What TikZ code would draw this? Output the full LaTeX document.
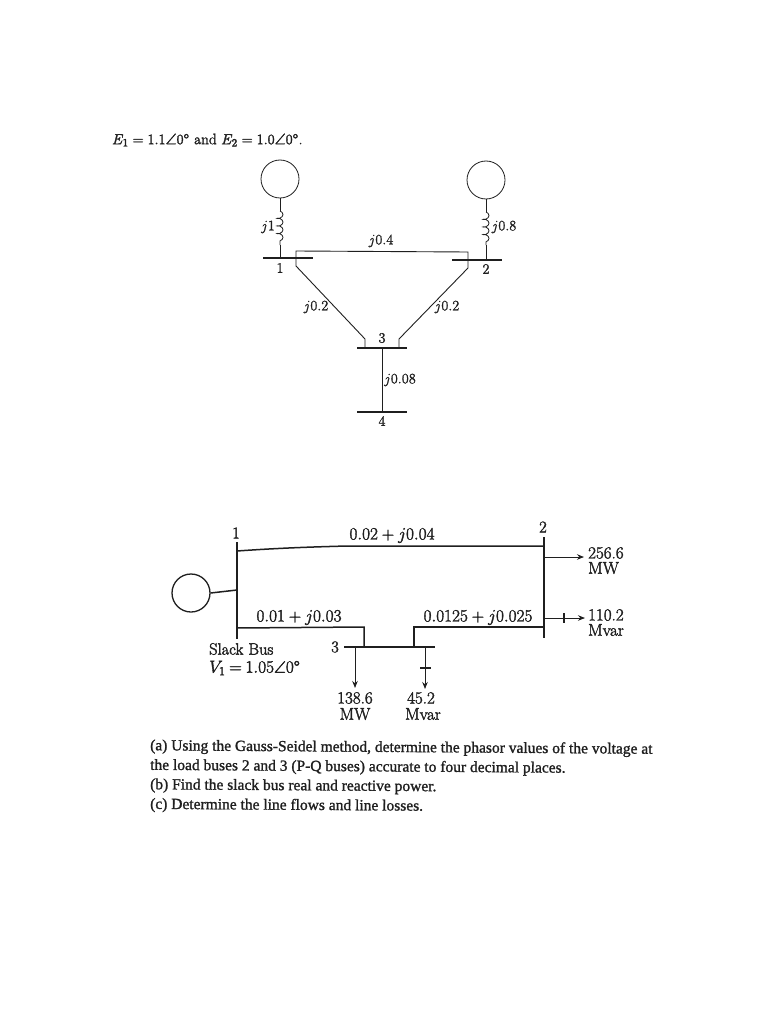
\documentclass[tikz,border=0pt]{standalone}
\usepackage{amsmath,amssymb}
\usepackage{fontspec}
\newfontfamily\bodyfont{Liberation Serif}
\usetikzlibrary{decorations.pathmorphing,arrows.meta}
\definecolor{ink}{gray}{0.12}
\newcommand{\heavy}[2]{\special{pdf:literal #1 w 2 Tr}#2\special{pdf:literal 0 Tr 0.4 w}}
\tikzset{
  thinln/.style={draw=ink,line width=0.9pt},
  thickln/.style={draw=ink,line width=1.5pt},
  genU/.style={circle,draw=ink,line width=0.8pt,minimum size=38pt,inner sep=0pt},
  genL/.style={circle,draw=ink,line width=1.3pt,minimum size=38pt,inner sep=0pt},
  busU/.style={rectangle,fill=ink,minimum width=50pt,minimum height=1.3pt,inner sep=0pt},
  busV/.style={rectangle,fill=ink,minimum width=2.2pt,inner sep=0pt},
  busH/.style={rectangle,fill=ink,minimum height=2.2pt,inner sep=0pt},
  coilln/.style={draw=ink,line width=0.8pt,decorate,decoration={coil,aspect=0.55,segment length=7.6pt,amplitude=3pt,pre length=0pt,post length=0pt}},
  arr/.style={draw=ink,line width=1pt,-{Stealth[length=7pt,width=5.5pt]}},
  tick/.style={draw=ink,line width=1.1pt},
  lblU/.style={inner sep=0pt,text=ink,font=\fontsize{14.5}{16}\selectfont},
  lblL/.style={inner sep=0pt,text=ink,font=\fontsize{16.4}{17}\selectfont},
  lblP/.style={inner sep=0pt,text=ink,font=\fontsize{17}{17}\selectfont},
  bodytxt/.style={inner sep=0pt,anchor=west,text=ink,font=\bodyfont\fontsize{15.5}{18}\selectfont,rotate=-0.4},
}
\begin{document}
\begin{tikzpicture}[x=1pt,y=-1pt]
\useasboundingbox (0,0) rectangle (768,1024);
\fill[white] (0,0) rectangle (768,1024);
% title
\node[inner sep=0pt,anchor=west,text=ink,font=\fontsize{15.2}{17}\selectfont] (title) at (112,140) {\heavy{0.3}{$E_1 = 1.1\angle 0^\circ$ and $E_2 = 1.0\angle 0^\circ$.}};
% upper diagram
\node[genU] (g1) at (280,179) {};
\node[genU] (g2) at (486,180) {};
\node[busU] (b1) at (288,258) {};
\node[busU] (b2) at (477,260) {};
\node[busU] (b3) at (382,348) {};
\node[busU] (b4) at (382,412) {};
\coordinate (c1a) at (280,211); \coordinate (c1b) at (280,245); \coordinate (c1c) at (280,258);
\coordinate (c2a) at (486,212); \coordinate (c2b) at (486,245); \coordinate (c2c) at (486,260);
\draw[thinln] (g1.south) -- (c1a);
\draw[coilln] (c1a) -- (c1b);
\draw[thinln] (c1b) -- (c1c);
\draw[thinln] (g2.south) -- (c2a);
\draw[coilln] (c2a) -- (c2b);
\draw[thinln] (c2b) -- (c2c);
\coordinate (t1) at (296,251); \coordinate (t2) at (468,252);
\coordinate (d1) at (296,266); \coordinate (d2) at (468,268);
\coordinate (e1) at (365,339); \coordinate (e2) at (399,339);
\coordinate (f1) at (365,348); \coordinate (f2) at (399,348);
\draw[thinln] (d1) -- (t1) -- (t2) -- (d2) -- (e2) -- (f2);
\draw[thinln] (d1) -- (e1) -- (f1);
\draw[thinln,line width=1pt] (b3) -- (b4);
\node[lblU] (n1) at (280,268) {\heavy{0.15}{1}};
\node[lblU] (n2) at (486,269) {\heavy{0.15}{2}};
\node[lblU] (n3) at (382,338) {\heavy{0.15}{3}};
\node[lblU] (n4) at (382,421) {\heavy{0.15}{4}};
\node[lblU] (lj1) at (268,227) {\heavy{0.15}{$j1$}};
\node[lblU] (lj8) at (504,227) {\heavy{0.15}{$j0.8$}};
\node[lblU] (lj4) at (381,241) {\heavy{0.15}{$j0.4$}};
\node[lblU] (lj2a) at (316,307) {\heavy{0.15}{$j0.2$}};
\node[lblU] (lj2b) at (447,307) {\heavy{0.15}{$j0.2$}};
\node[lblU] (lj08) at (400,380) {\heavy{0.15}{$j0.08$}};
% lower diagram
\node[genL] (g) at (191,593) {};
\node[busV,minimum height=97pt] (B1) at (237,590.5) {};
\node[busV,minimum height=101pt] (B2) at (544,587.5) {};
\node[busH,minimum width=91pt] (B3) at (389.5,647) {};
\draw[thickln] (g.east) -- (237,590);
\coordinate (p1) at (237,551); \coordinate (p2) at (347,546); \coordinate (p3) at (544,546);
\draw[thickln] (p1) .. controls (280,548) and (310,547) .. (p2) -- (p3);
\coordinate (q1) at (237,628); \coordinate (q2) at (364,627); \coordinate (q3) at (364,647);
\coordinate (r1) at (544,627); \coordinate (r2) at (414,627); \coordinate (r3) at (414,647);
\draw[thickln] (q1) -- (q2) -- (q3);
\draw[thickln] (r1) -- (r2) -- (r3);
\coordinate (a1) at (544,557); \coordinate (a1e) at (584,557);
\coordinate (a2) at (544,618); \coordinate (a2e) at (585,618);
\coordinate (a3) at (355,647); \coordinate (a3e) at (355,688);
\coordinate (a4) at (425,647); \coordinate (a4e) at (425,689);
\draw[arr] (a1) -- (a1e);
\draw[arr] (a2) -- (a2e);
\draw[arr] (a3) -- (a3e);
\draw[arr] (a4) -- (a4e);
\coordinate (k1) at (564,613); \coordinate (k2) at (564,623);
\coordinate (k3) at (420,668); \coordinate (k4) at (431,668);
\draw[tick] (k1) -- (k2);
\draw[tick] (k3) -- (k4);
\node[lblL] (N1) at (236,533) {\heavy{0.35}{1}};
\node[lblL] (N2) at (543,527) {\heavy{0.35}{2}};
\node[lblL,anchor=east] (N3) at (339,647) {\heavy{0.35}{3}};
\node[lblL] (z1) at (392,535.5) {\heavy{0.35}{$0.02 + j0.04$}};
\node[lblL] (z2) at (299,617.5) {\heavy{0.35}{$0.01 + j0.03$}};
\node[lblL] (z3) at (478,617.5) {\heavy{0.35}{$0.0125 + j0.025$}};
\node[lblP,anchor=west] (p256) at (588,553) {\heavy{0.35}{256.6}};
\node[lblP,anchor=west] (pmw) at (588,568) {\heavy{0.35}{MW}};
\node[lblP,anchor=west] (q110) at (588,615) {\heavy{0.35}{110.2}};
\node[lblP,anchor=west] (qmv) at (588,630) {\heavy{0.35}{Mvar}};
\node[lblP] (p138) at (355,698) {\heavy{0.35}{138.6}};
\node[lblP] (pmw2) at (355,714) {\heavy{0.35}{MW}};
\node[lblP] (q45) at (421,698) {\heavy{0.35}{45.2}};
\node[lblP] (qmv2) at (423,714) {\heavy{0.35}{Mvar}};
\node[lblL,anchor=west] (sl) at (209,649) {\heavy{0.35}{Slack Bus}};
\node[lblL,anchor=west] (v1) at (209,668) {\heavy{0.35}{$\thickmuskip=4mu V_1 = 1.05\angle 0^\circ$}};
% questions
\node[bodytxt] (qa) at (150,746.5) {\heavy{0.2}{(a) Using the Gauss-Seidel method, determine the phasor values of the voltage at}};
\node[bodytxt] (qa2) at (150,766) {\heavy{0.2}{the load buses 2 and 3 (P-Q buses) accurate to four decimal places.}};
\node[bodytxt] (qb) at (150,785.5) {\heavy{0.2}{(b) Find the slack bus real and reactive power.}};
\node[bodytxt] (qc) at (150,805) {\heavy{0.2}{(c) Determine the line flows and line losses.}};
\end{tikzpicture}
\end{document}
